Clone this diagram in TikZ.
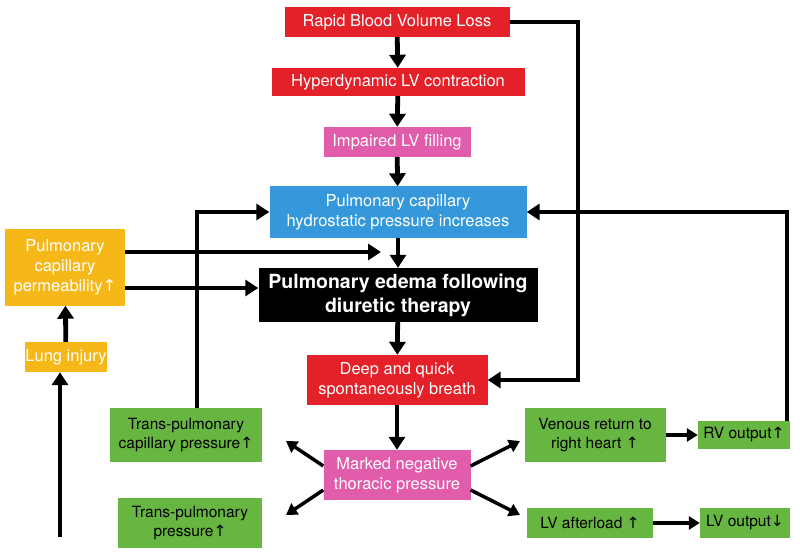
\documentclass[tikz,border=0pt]{standalone}
\usepackage{fontspec}
\setmainfont{TeX Gyre Heros}
\newfontfamily\arrfont{DejaVu Sans}
\usetikzlibrary{arrows.meta}
\newcommand{\upa}{{\arrfont ↑}}
\newcommand{\dna}{{\arrfont ↓}}
\definecolor{cred}{RGB}{228,32,40}
\definecolor{cpink}{RGB}{226,92,172}
\definecolor{cblue}{RGB}{52,152,219}
\definecolor{corange}{RGB}{246,184,24}
\definecolor{cgreen}{RGB}{104,182,66}
\begin{document}
\begin{tikzpicture}[x=1pt,y=-1pt,
  box/.style={fill=#1,text=white,inner sep=0pt,align=center,font=\fontsize{16.5}{20}\selectfont},
  dark/.style={box=cgreen,text=black,font=\fontsize{15.5}{19}\selectfont},
  ar/.style={line width=4.8pt,-{Triangle[length=13pt,width=16pt]}},
  dg/.style={line width=3.5pt,-{Triangle[length=11pt,width=13pt]}}]
\useasboundingbox (0,0) rectangle (800,556);
\node[box=cred,minimum width=225,minimum height=30] (a) at (397,22) {Rapid Blood Volume Loss};
\node[box=cred,minimum width=253,minimum height=28] (b) at (398,82) {Hyperdynamic LV contraction};
\node[box=cpink,minimum width=147,minimum height=30] (c) at (397,142) {Impaired LV filling};
\node[box=cblue,minimum width=257,minimum height=51] (d) at (398,212) {Pulmonary capillary\\hydrostatic pressure increases};
\node[box=black,minimum width=279,minimum height=54,font=\bfseries\fontsize{19.5}{24}\selectfont] (e) at (398,295) {Pulmonary edema following\\diuretic therapy};
\node[box=cred,minimum width=181,minimum height=50] (f) at (397,380) {Deep and quick\\spontaneously breath};
\node[box=cpink,minimum width=147,minimum height=50] (g) at (397,475) {Marked negative\\thoracic pressure};
\node[box=corange,minimum width=120,minimum height=77] (p) at (65,267) {Pulmonary\\capillary\\permeability\upa};
\node[box=corange,minimum width=76,minimum height=30] (l) at (66,357) {Lung injury};
\node[dark,minimum width=152,minimum height=54] (t1) at (186,435) {Trans-pulmonary\\capillary pressure\upa};
\node[dark,minimum width=144,minimum height=50] (t2) at (190,523) {Trans-pulmonary\\pressure\upa};
\node[dark,minimum width=141,minimum height=54] (v) at (595,435) {Venous return to\\right heart \upa};
\node[dark,minimum width=92,minimum height=28] (rv) at (744,435) {RV output\upa};
\node[dark,minimum width=126,minimum height=30] (la) at (590,523) {LV afterload \upa};
\node[dark,minimum width=90,minimum height=30] (lo) at (745,523) {LV output\dna};
\coordinate (bot) at (60,537);
\draw[ar] (a) -- (b);
\draw[ar] (b) -- (c);
\draw[ar] (c) -- (d);
\draw[ar] (d) -- (e);
\draw[ar] (e) -- (f);
\draw[ar] (f) -- (g);
\draw[ar] (a.east) -- (578,22) -- (578,380) -- (f.east);
\draw[ar,line width=3.5pt] (rv.north east) ++(-3,0) |- (d.east);
\draw[ar] (t1.north) ++(11,0) |- (d.west);
\draw[ar] (p.east |- 0,252) -- (381,252);
\draw[ar] (p.east |- 0,288) -- (e.west |- 0,288);
\draw[ar] (l) -- (p);
\draw[ar] (bot) -- (l.south -| bot);
\draw[dg] (g.west |- 0,466) -- (286,441);
\draw[dg] (g.west |- 0,490) -- (286,515);
\draw[dg] (g.east |- 0,466) -- (520,441);
\draw[dg] (g.east |- 0,490) -- (520,515);
\draw[dg] (v) -- (rv);
\draw[dg] (la) -- (lo);
\end{tikzpicture}
\end{document}
